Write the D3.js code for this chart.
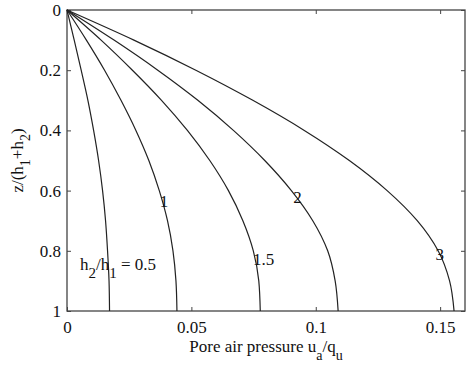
<!DOCTYPE html>
<html><head><meta charset="utf-8">
<script src="https://cdn.jsdelivr.net/npm/d3@7"></script>
<style>
body{margin:0;background:#fff;}
text{font-family:"Liberation Serif","Times New Roman",serif;fill:#111;}
</style></head>
<body><svg id="c" width="474" height="367"></svg>
<script>
// depth ratio z/(h1+h2)
const zValues = [0, 0.1, 0.2, 0.3, 0.4, 0.5, 0.6, 0.7, 0.8, 0.9, 1.0];
// pore air pressure ua/qu for each h2/h1 ratio
const ratios = ["0.5", "1", "1.5", "2", "3"];
const series05 = [0, 0.0029, 0.0057, 0.0084, 0.0107, 0.0127, 0.0143, 0.0155, 0.0163, 0.0169, 0.0171];
const series1  = [0, 0.0078, 0.0151, 0.0217, 0.0277, 0.0329, 0.0371, 0.0404, 0.0426, 0.0438, 0.0442];
const series15 = [0, 0.0137, 0.0263, 0.0380, 0.0484, 0.0574, 0.0649, 0.0707, 0.0749, 0.0771, 0.0777];
const series2  = [0, 0.0189, 0.0365, 0.0526, 0.0669, 0.0795, 0.0902, 0.0988, 0.1048, 0.1078, 0.1090];
const series3  = [0, 0.0269, 0.0518, 0.0747, 0.0954, 0.1135, 0.1287, 0.1408, 0.1492, 0.1538, 0.1556];
const xTicks = [0, 0.05, 0.1, 0.15];
const yTicks = [0, 0.2, 0.4, 0.6, 0.8, 1];
// curve labels: value (x), depth (z)
const labelText = ["1", "1.5", "2", "3"];
const labelX = [0.0390, 0.0790, 0.0927, 0.1498];
const labelZ = [0.655, 0.847, 0.640, 0.830];

const allSeries = [series05, series1, series15, series2, series3];

const svg = d3.select("#c");
const m = {l:67, t:10, r:9, b:56};
const W = 474, H = 367;
const x = d3.scaleLinear().domain([0, 0.16]).range([m.l, W - m.r]);
const y = d3.scaleLinear().domain([0, 1]).range([m.t, H - m.b]);

const fs = 17;
function styleAxis(g){
  g.select(".domain").remove();
  g.selectAll("line").attr("stroke","#444").attr("stroke-width",1);
  g.selectAll("text").attr("font-size",fs).attr("fill","#111");
}
const fmt = d => String(d);
svg.append("g").attr("transform",`translate(0,${y(1)})`)
  .call(d3.axisBottom(x).tickValues(xTicks).tickFormat(fmt).tickSizeInner(-4).tickSizeOuter(0).tickPadding(10))
  .call(styleAxis);
svg.append("g").attr("transform",`translate(0,${y(0)})`)
  .call(d3.axisTop(x).tickValues(xTicks).tickFormat("").tickSizeInner(-4).tickSizeOuter(0))
  .call(styleAxis);
svg.append("g").attr("transform",`translate(${x(0)},0)`)
  .call(d3.axisLeft(y).tickValues(yTicks).tickFormat(fmt).tickSizeInner(-4).tickSizeOuter(0).tickPadding(6))
  .call(styleAxis);
svg.append("g").attr("transform",`translate(${x(0.16)},0)`)
  .call(d3.axisRight(y).tickValues(yTicks).tickFormat("").tickSizeInner(-4).tickSizeOuter(0))
  .call(styleAxis);

// frame
svg.append("rect").attr("x",x(0)).attr("y",y(0)).attr("width",x(0.16)-x(0)).attr("height",y(1)-y(0))
  .attr("fill","none").attr("stroke","#444").attr("stroke-width",1.3);

const line = d3.line().x(d=>x(d[0])).y(d=>y(d[1])).curve(d3.curveMonotoneY);
svg.append("g").selectAll("path").data(allSeries).join("path")
  .attr("d", s => line(s.map((v,i)=>[v, zValues[i]])))
  .attr("fill","none").attr("stroke","#222").attr("stroke-width",1.2);

svg.append("g").selectAll("text").data(labelText).join("text")
  .attr("x",(d,i)=>x(labelX[i])).attr("y",(d,i)=>y(labelZ[i]))
  .attr("text-anchor","middle").attr("font-size",fs).text(d=>d);

// h2/h1 = 0.5 label
const lab = svg.append("text").attr("x",80).attr("y",270).attr("font-size",fs);
lab.append("tspan").text("h");
lab.append("tspan").attr("dy",8).attr("font-size",15).text("2");
lab.append("tspan").attr("dy",-8).text("/h");
lab.append("tspan").attr("dy",8).attr("font-size",15).text("1");
lab.append("tspan").attr("dy",-8).text(" = " + ratios[0]);

// x title
const xt = svg.append("text").attr("x",(x(0)+x(0.16))/2).attr("y",352).attr("text-anchor","middle").attr("font-size",fs);
xt.append("tspan").text("Pore air pressure u");
xt.append("tspan").attr("dy",8).attr("font-size",14).text("a");
xt.append("tspan").attr("dy",-8).text("/q");
xt.append("tspan").attr("dy",8).attr("font-size",14).text("u");

// y title
const yt = svg.append("text").attr("transform",`translate(23,${(y(0)+y(1))/2}) rotate(-90)`)
  .attr("text-anchor","middle").attr("font-size",fs);
yt.append("tspan").text("z/(h");
yt.append("tspan").attr("dy",7).attr("font-size",14).text("1");
yt.append("tspan").attr("dy",-7).text("+h");
yt.append("tspan").attr("dy",7).attr("font-size",14).text("2");
yt.append("tspan").attr("dy",-7).text(")");
</script></body></html>
